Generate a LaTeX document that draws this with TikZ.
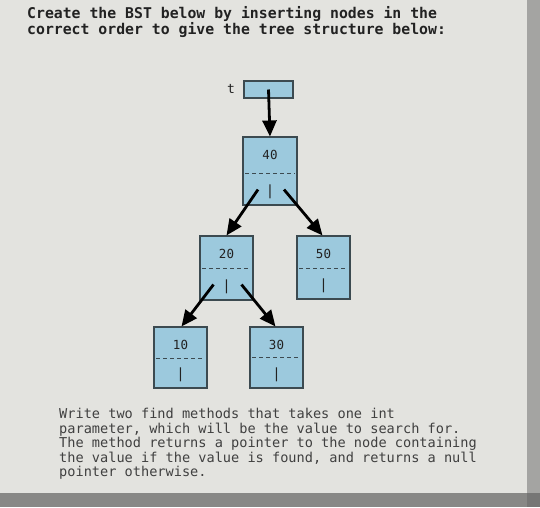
\documentclass[tikz,border=0pt]{standalone}
\usepackage{fontspec}
\setmonofont{DejaVu Sans Mono}
\usetikzlibrary{calc,arrows.meta}
\definecolor{bg}{HTML}{E3E3DF}
\definecolor{boxfill}{HTML}{9CC9DD}
\definecolor{boxline}{HTML}{3C4A50}
\definecolor{txt}{HTML}{222222}
\tikzset{
  bstbox/.style={draw=boxline, line width=1.1pt, fill=boxfill, inner sep=0pt},
  valtext/.style={font=\ttfamily\fontsize{12.5}{12.5}\selectfont, text=txt, inner sep=0pt},
  sepline/.style={draw=boxline, line width=1.1pt, dash pattern=on 4pt off 3pt},
  arr/.style={draw=black, line width=2.8pt, -{Triangle[length=16pt,width=14pt]}},
  para/.style={font=\ttfamily\fontsize{13.6}{14.6}\selectfont, text=txt, anchor=north west, align=left, inner sep=0pt},
}
\newcommand{\bstnode}[7]{%
  % name, x, y, w, h, label, sep offset from top (y axis points down)
  \node[bstbox, minimum width=#4pt, minimum height=#5pt] (#1) at (#2,#3) {};
  \node[valtext] (#1v) at ($(#1.north)+(0,18)$) {#6};
  \coordinate (#1a) at ($(#1.north west)+(3,#7)$);
  \coordinate (#1b) at ($(#1.north east)+(-3,#7)$);
  \draw[sepline] (#1a) -- (#1b);
  \node[valtext, font=\ttfamily\fontsize{14}{14}\selectfont] (#1p) at ($(#1.south)+(0,-14)$) {|};
}
\begin{document}
\begin{tikzpicture}[x=1pt,y=-1pt]
\useasboundingbox (0,0) rectangle (540,507);
\fill[bg] (0,0) rectangle (540,507);
\fill[black!70, opacity=0.6] (0,493) rectangle (540,507);
\fill[black!60, opacity=0.5] (527,0) rectangle (540,507);
% title
\node[para, font=\ttfamily\bfseries\fontsize{14.8}{16}\selectfont] (title) at (27,6)
  {Create the BST below by inserting nodes in the\\correct order to give the tree structure below:};
% t pointer
\node[bstbox, minimum width=49pt, minimum height=17pt] (t) at (268.5,89.5) {};
\node[valtext, font=\ttfamily\fontsize{13}{13}\selectfont] (tl) at (231,89) {t};
% nodes
\bstnode{n40}{270}{171}{54}{68}{40}{37}
\bstnode{n20}{226.5}{268}{53}{64}{20}{33}
\bstnode{n50}{323.5}{267.5}{53}{63}{50}{33}
\bstnode{n10}{180.5}{357.5}{53}{61}{10}{32}
\bstnode{n30}{276.5}{357.5}{53}{61}{30}{31}
% arrow start points
\coordinate (s40l) at ($(n40.south)+(-12,-16)$);
\coordinate (s40r) at ($(n40.south)+(14,-16)$);
\coordinate (s20l) at ($(n20.south)+(-13,-16)$);
\coordinate (s20r) at ($(n20.south)+(15,-16)$);
\coordinate (e20) at ($(n20.north)+(0,0)$);
\coordinate (e50) at ($(n50.north)+(-1,0)$);
\coordinate (e10) at ($(n10.north)+(1,0)$);
\coordinate (e30) at ($(n30.north)+(-1,0)$);
% connectors
\draw[arr] (t.center) -- (n40.north);
\draw[arr] (s40l) -- (e20);
\draw[arr] (s40r) -- (e50);
\draw[arr] (s20l) -- (e10);
\draw[arr] (s20r) -- (e30);
% paragraph
\node[para, text=black!75] (body) at (59,408)
  {Write two find methods that takes one int\\parameter, which will be the value to search for.\\The method returns a pointer to the node containing\\the value if the value is found, and returns a null\\pointer otherwise.};
\end{tikzpicture}
\end{document}
